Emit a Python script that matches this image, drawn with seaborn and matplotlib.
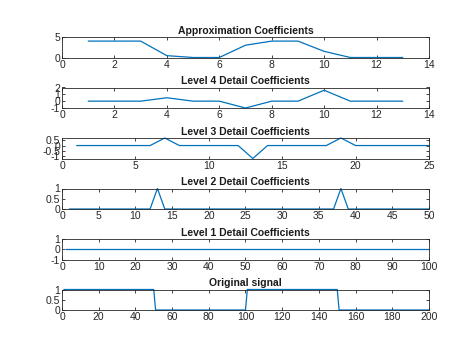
import matplotlib
matplotlib.use('Agg')
import matplotlib.pyplot as plt
import numpy as np
import pandas as pd
import seaborn as sns

# wavelet decomposition values
approx = [4, 4, 4, 0.45, 0, 0, 3, 4, 4, 1.5, 0, 0, 0]
detail4 = [0, 0, 0, 0.5, 0, 0, -1, 0, 0, 1.6, 0, 0, 0]
detail3 = [0] * 25
detail3[6] = 0.7
detail3[12] = -1.2
detail3[18] = 0.7
detail2 = [0] * 50
detail2[12] = 1
detail2[37] = 1
detail1 = [0] * 100
signal = [1] * 50 + [0] * 50 + [1] * 50 + [0] * 50

titles = ['Approximation Coefficients', 'Level 4 Detail Coefficients',
          'Level 3 Detail Coefficients', 'Level 2 Detail Coefficients',
          'Level 1 Detail Coefficients', 'Original signal']
series = [approx, detail4, detail3, detail2, detail1, signal]
xlims = [(0, 14), (0, 14), (0, 25), (0, 50), (0, 100), (0, 200)]
xticks = [np.arange(0, 15, 2), np.arange(0, 15, 2), np.arange(0, 26, 5),
          np.arange(0, 51, 5), np.arange(0, 101, 10), np.arange(0, 201, 20)]
ylims = [(0, 5), (-1, 2), (-1.2, 0.7), (0, 1), (-1, 1), (0, 1)]
yticks = [[0, 5], [-1, 0, 1, 2], [-1, -0.5, 0, 0.5], [0, 0.5, 1], [-1, 0, 1], [0, 0.5, 1]]
ytlabels = [['0', '5'], ['-1', '0', '1', '2'], ['-1', '-0.5', '0', '0.5'],
            ['0', '0.5', '1'], ['-1', '0', '1'], ['0', '0.5', '1']]

sns.set_style('white')
plt.rcParams['font.family'] = ['Liberation Sans', 'DejaVu Sans']
plt.rcParams['font.size'] = 7.5

W, H = 474, 355
fig = plt.figure(figsize=(W / 100, H / 100), dpi=100)
fig.patch.set_facecolor('white')

left, right = 62, 429
tops = [37, 87.5, 138, 188.5, 239, 289.5]
ah = 20.5

for k in range(6):
    ax = fig.add_axes([left / W, 1 - (tops[k] + ah) / H, (right - left) / W, ah / H])
    y = series[k]
    df = pd.DataFrame({'x': np.arange(1, len(y) + 1), 'y': y})
    sns.lineplot(data=df, x='x', y='y', ax=ax, color='#0072BD', linewidth=0.9)
    for ln in ax.lines:
        ln.set_clip_on(False)
    ax.set_xlim(xlims[k])
    ax.set_ylim(ylims[k])
    ax.set_xticks(xticks[k])
    ax.set_yticks(yticks[k])
    ax.set_yticklabels(ytlabels[k])
    ax.set_xlabel('')
    ax.set_ylabel('')
    ax.set_title(titles[k], fontsize=7.5, fontweight='bold', pad=2.5, color='#1a1a1a')
    for s in ax.spines.values():
        s.set_color('#262626')
        s.set_linewidth(0.6)
    ax.tick_params(direction='in', length=2.5, width=0.6, top=True, right=True,
                   bottom=True, left=True, colors='#262626', labelsize=7.5, pad=1.5)

fig.savefig('out.png', dpi=100)
